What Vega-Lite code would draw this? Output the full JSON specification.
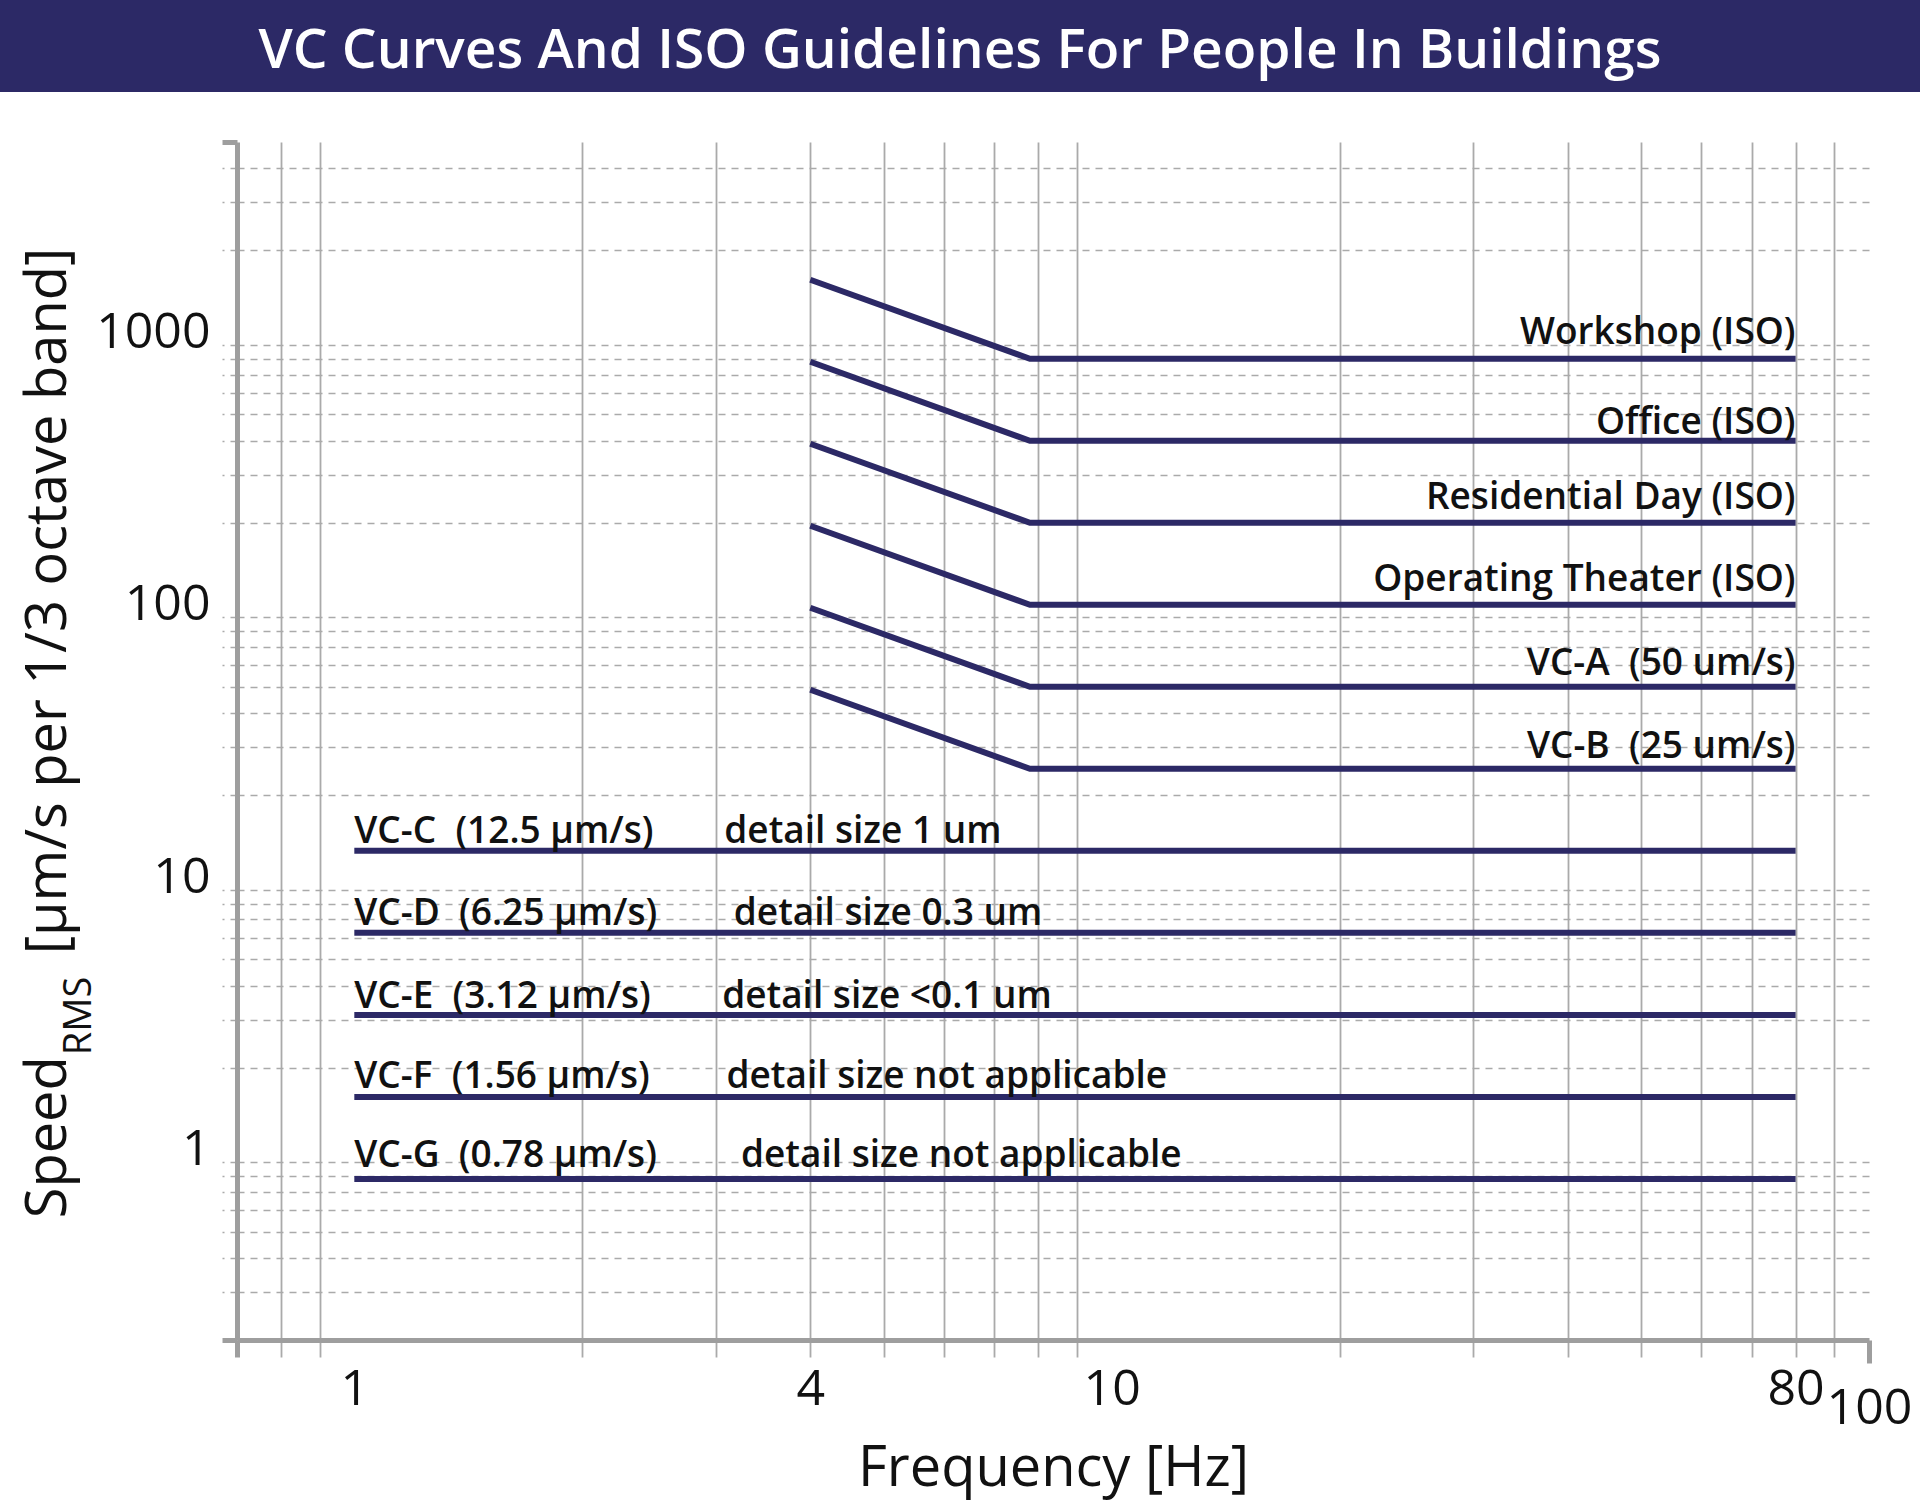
{
  "$schema": "https://vega.github.io/schema/vega-lite/v6.json",
  "padding": {"left": 0, "top": 0, "right": 0, "bottom": 6},
  "spacing": 25,
  "background": "white",
  "config": {"view": {"stroke": null}},
  "resolve": {"scale": {"x": "independent", "y": "independent"}},
  "datasets": {
    "lines": [
      {"series": "Workshop", "f": 4, "v": 1560},
      {"series": "Workshop", "f": 7.8, "v": 800},
      {"series": "Workshop", "f": 80, "v": 800},
      {"series": "Office", "f": 4, "v": 780},
      {"series": "Office", "f": 7.8, "v": 400},
      {"series": "Office", "f": 80, "v": 400},
      {"series": "Residential Day", "f": 4, "v": 390},
      {"series": "Residential Day", "f": 7.8, "v": 200},
      {"series": "Residential Day", "f": 80, "v": 200},
      {"series": "Operating Theater", "f": 4, "v": 195},
      {"series": "Operating Theater", "f": 7.8, "v": 100},
      {"series": "Operating Theater", "f": 80, "v": 100},
      {"series": "VC-A", "f": 4, "v": 97.5},
      {"series": "VC-A", "f": 7.8, "v": 50},
      {"series": "VC-A", "f": 80, "v": 50},
      {"series": "VC-B", "f": 4, "v": 48.75},
      {"series": "VC-B", "f": 7.8, "v": 25},
      {"series": "VC-B", "f": 80, "v": 25},
      {"series": "VC-C", "f": 1, "v": 12.5},
      {"series": "VC-C", "f": 80, "v": 12.5},
      {"series": "VC-D", "f": 1, "v": 6.25},
      {"series": "VC-D", "f": 80, "v": 6.25},
      {"series": "VC-E", "f": 1, "v": 3.12},
      {"series": "VC-E", "f": 80, "v": 3.12},
      {"series": "VC-F", "f": 1, "v": 1.56},
      {"series": "VC-F", "f": 80, "v": 1.56},
      {"series": "VC-G", "f": 1, "v": 0.78},
      {"series": "VC-G", "f": 80, "v": 0.78}
    ],
    "isoLabels": [
      {"label": "Workshop (ISO)", "f": 80, "v": 910},
      {"label": "Office (ISO)", "f": 80, "v": 425},
      {"label": "Residential Day (ISO)", "f": 80, "v": 224},
      {"label": "Operating Theater (ISO)", "f": 80, "v": 112},
      {"label": "VC-A\u00a0 (50 um/s)", "f": 80, "v": 55.4},
      {"label": "VC-B\u00a0 (25 um/s)", "f": 80, "v": 27.5}
    ],
    "vcLabels": [
      {"label": "VC-C\u00a0 (12.5 µm/s)", "f": 1, "v": 13.3},
      {"label": "detail size 1 um", "f": 3.08, "v": 13.3},
      {"label": "VC-D\u00a0 (6.25 µm/s)", "f": 1, "v": 6.7},
      {"label": "detail size 0.3 um", "f": 3.17, "v": 6.7},
      {"label": "VC-E\u00a0 (3.12 µm/s)", "f": 1, "v": 3.32},
      {"label": "detail size <0.1 um", "f": 3.06, "v": 3.32},
      {"label": "VC-F\u00a0 (1.56 µm/s)", "f": 1, "v": 1.69},
      {"label": "detail size not applicable", "f": 3.1, "v": 1.69},
      {"label": "VC-G\u00a0 (0.78 µm/s)", "f": 1, "v": 0.86},
      {"label": "detail size not applicable", "f": 3.24, "v": 0.86}
    ]
  },
  "vconcat": [
    {
      "width": 1683,
      "height": 92,
      "data": {"values": [{"t": "VC Curves And ISO Guidelines For People In Buildings"}]},
      "layer": [
        {
          "mark": {"type": "rect", "color": "#2c2966"},
          "encoding": {
            "x": {"datum": 0, "type": "quantitative", "scale": {"domain": [237, 1920], "nice": false, "zero": false}, "axis": null},
            "x2": {"datum": 1920},
            "y": {"datum": 0, "type": "quantitative", "scale": {"domain": [0, 92], "reverse": true, "nice": false, "zero": false}, "axis": null},
            "y2": {"datum": 92}
          }
        },
        {
          "mark": {"type": "text", "color": "white", "font": "Open Sans", "fontWeight": 600, "fontSize": 55, "baseline": "alphabetic", "align": "center"},
          "encoding": {
            "x": {"datum": 960, "type": "quantitative"},
            "y": {"datum": 68, "type": "quantitative"},
            "text": {"field": "t"}
          }
        }
      ]
    },
    {
      "width": 1632,
      "height": 1198,
      "encoding": {
        "x": {
          "field": "f",
          "type": "quantitative",
          "scale": {"type": "log", "domain": [0.7, 100], "nice": false},
          "axis": {
            "title": "Frequency [Hz]",
            "values": [0.7, 0.8, 0.9, 1, 2, 3, 4, 5, 6, 7, 8, 9, 10, 20, 30, 40, 50, 60, 70, 80, 90, 100],
            "format": "d",
            "labelExpr": "indexof([1,4,10,80,100], datum.value) >= 0 ? datum.label : ''",
            "labelFont": "Open Sans",
            "labelFontSize": 50,
            "labelColor": "#111111",
            "labelPadding": {"condition": {"test": "datum.value === 100", "value": 20}, "value": 7},
            "labelOverlap": false,
            "labelFlush": false,
            "grid": true,
            "gridColor": "#aaaaaa",
            "gridWidth": 1.8,
            "gridOpacity": {"condition": {"test": "indexof([0.7,1,10,100], datum.value) >= 0", "value": 0}, "value": 1},
            "ticks": true,
            "tickColor": {"condition": {"test": "datum.value === 0.7 || datum.value === 100", "value": "#9e9e9e"}, "value": "#aaaaaa"},
            "tickWidth": {"condition": {"test": "datum.value === 0.7 || datum.value === 100", "value": 5}, "value": 1.8},
            "tickSize": {"condition": {"test": "datum.value === 100", "value": 23}, "value": 17},
            "tickOpacity": {"condition": {"test": "datum.value === 1 || datum.value === 10", "value": 0}, "value": 1},
            "domainColor": "#9e9e9e",
            "domainWidth": 5,
            "titleFont": "Open Sans",
            "titleFontSize": 56,
            "titleFontWeight": "normal",
            "titleColor": "#111111",
            "titleBaseline": "alphabetic",
            "titleY": 145
          }
        }
      },
      "layer": [
        {
          "data": {"name": "lines"},
          "mark": {"type": "line", "color": "#2c2966", "strokeWidth": 6, "strokeCap": "butt", "strokeJoin": "miter"},
          "encoding": {
            "y": {
              "field": "v",
              "type": "quantitative",
              "scale": {"type": "log", "domain": [0.2, 5000], "nice": false},
              "axis": {
                "title": ["", "Speed\u00a0\u00a0\u00a0\u00a0\u00a0\u00a0\u00a0[µm/s per 1/3 octave band]"],
                "titleLineHeight": 20,
                "titleX": -192,
                "titleY": 590.5,
                "titleAngle": 270,
                "titleBaseline": "alphabetic",
                "titleFont": "Open Sans",
                "titleFontSize": 56,
                "titleFontWeight": "normal",
                "titleColor": "#111111",
                "values": [0.2, 0.3, 0.4, 0.5, 0.6, 0.7, 0.8, 0.9, 1, 2, 3, 4, 5, 6, 7, 8, 9, 10, 20, 30, 40, 50, 60, 70, 80, 90, 100, 200, 300, 400, 500, 600, 700, 800, 900, 1000, 2000, 3000, 4000, 5000],
                "format": "d",
                "labelExpr": "indexof([1,10,100,1000], datum.value) >= 0 ? datum.label : ''",
                "labelFont": "Open Sans",
                "labelFontSize": 50,
                "labelColor": "#111111",
                "labelPadding": 12,
                "labelOverlap": false,
                "grid": true,
                "gridColor": "#aaaaaa",
                "gridWidth": 1.5,
                "gridDash": [7, 6],
                "gridOpacity": {"condition": {"test": "indexof([0.2,1,10,100,1000,5000], datum.value) >= 0", "value": 0}, "value": 1},
                "tickSize": 15,
                "tickColor": {"condition": {"test": "datum.value === 0.2 || datum.value === 5000", "value": "#9e9e9e"}, "value": "#aaaaaa"},
                "tickWidth": {"condition": {"test": "datum.value === 0.2 || datum.value === 5000", "value": 5}, "value": 1.5},
                "tickDash": {"condition": {"test": "datum.value === 0.2 || datum.value === 5000", "value": []}, "value": [7, 6]},
                "tickOpacity": {"condition": {"test": "indexof([1,10,100,1000], datum.value) >= 0", "value": 0}, "value": 1},
                "domainColor": "#9e9e9e",
                "domainWidth": 5
              }
            },
            "detail": {"field": "series"}
          }
        },
        {
          "data": {"name": "isoLabels"},
          "mark": {"type": "text", "align": "right", "baseline": "alphabetic", "font": "Open Sans", "fontWeight": 600, "fontSize": 37, "color": "#111111"},
          "encoding": {
            "y": {"field": "v", "type": "quantitative", "scale": {"type": "log", "domain": [0.2, 5000], "nice": false}, "axis": null},
            "text": {"field": "label"}
          }
        },
        {
          "data": {"name": "vcLabels"},
          "mark": {"type": "text", "align": "left", "baseline": "alphabetic", "font": "Open Sans", "fontWeight": 600, "fontSize": 37, "color": "#111111"},
          "encoding": {
            "y": {
              "field": "v",
              "type": "quantitative",
              "scale": {"type": "log", "domain": [0.2, 5000], "nice": false},
              "axis": {
                "orient": "left",
                "title": "RMS",
                "labels": false,
                "ticks": false,
                "domain": false,
                "grid": false,
                "titleX": -147,
                "titleY": 873.5,
                "titleAngle": 270,
                "titleBaseline": "alphabetic",
                "titleFont": "Open Sans",
                "titleFontSize": 38,
                "titleFontWeight": "normal",
                "titleColor": "#111111"
              }
            },
            "text": {"field": "label"}
          }
        }
      ],
      "resolve": {"axis": {"y": "independent"}}
    }
  ]
}
